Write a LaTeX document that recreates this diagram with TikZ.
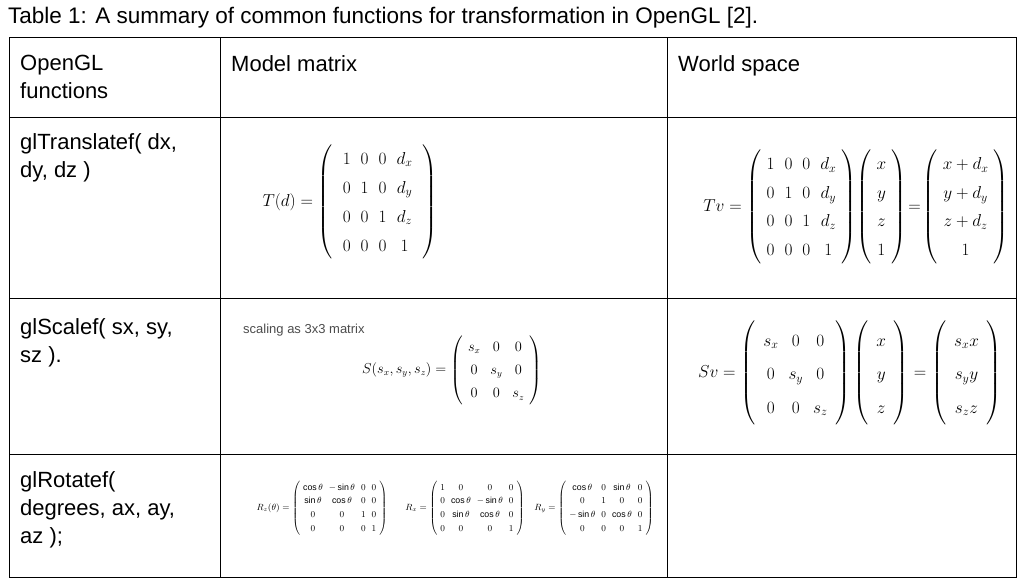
\documentclass[tikz,border=0pt]{standalone}
\usepackage{amsmath}
\usepackage{fontspec}
\setmainfont{Liberation Sans}
\begin{document}
\begin{tikzpicture}[x=1pt,y=-1pt,
  txt/.style={anchor=north west,align=left,font=\fontsize{22}{28}\selectfont,inner sep=0pt},
  mth/.style={inner sep=0pt}]
\useasboundingbox (0,0) rectangle (1024,584);
\node[anchor=west,inner sep=0pt,font=\fontsize{22.5}{26}\selectfont] (cap) at (8,18) {Table 1: A summary of common functions for transformation in OpenGL [2].};
\draw[line width=1pt] (9,37) rectangle (1016,577);
\draw[line width=1pt] (9,117) -- (1016,117) (9,298) -- (1016,298) (9,454) -- (1016,454)
  (220,37) -- (220,577) (667,37) -- (667,577);
\node[txt] (h1) at (20,55) {OpenGL\\functions};
\node[txt] (h2) at (231,55) {Model matrix};
\node[txt] (h3) at (678,55) {World space};
\node[txt] (r1) at (20,133) {glTranslatef( dx,\\dy, dz )};
\node[txt] (r2) at (20,318) {glScalef( sx, sy,\\sz ).};
\node[txt] (r3) at (20,471) {glRotatef(\\degrees, ax, ay,\\az );};
\renewcommand{\arraystretch}{1.45}
\node[mth,font=\fontsize{17}{20}\selectfont] (T) at (350,202) {$T(d)=\left(\begin{array}{cccc}\;1&0&0&d_x\;\\ \;0&1&0&d_y\;\\ \;0&0&1&d_z\;\\ \;0&0&0&1\;\end{array}\right)$};
\renewcommand{\arraystretch}{1.5}
\node[mth,font=\fontsize{16.5}{19}\selectfont] (Tv) at (856,207) {$Tv=\left(\begin{array}{cccc}1&0&0&d_x\\ 0&1&0&d_y\\ 0&0&1&d_z\\ 0&0&0&1\end{array}\right)\!\left(\begin{array}{c}x\\y\\z\\1\end{array}\right)\!=\!\left(\begin{array}{c}x+d_x\\y+d_y\\z+d_z\\1\end{array}\right)$};
\node[anchor=west,inner sep=0pt,text=black!70,font=\fontsize{13}{15}\selectfont] (sc) at (243,330) {scaling as 3x3 matrix};
\renewcommand{\arraystretch}{1.45}
\node[mth,font=\fontsize{13.5}{16}\selectfont] (S) at (452,370) {$S(s_x,s_y,s_z)=\left(\begin{array}{ccc}s_x&0&0\\0&s_y&0\\0&0&s_z\end{array}\right)$};
\renewcommand{\arraystretch}{1.6}
\node[mth,font=\fontsize{18}{21}\selectfont] (Sv) at (850,373) {$Sv=\left(\begin{array}{ccc}\,s_x&0&0\,\\ \,0&s_y&0\,\\ \,0&0&s_z\,\end{array}\right)\left(\begin{array}{c}\,x\,\\ \,y\,\\ \,z\,\end{array}\right)=\left(\begin{array}{c}\,s_xx\,\\ \,s_yy\,\\ \,s_zz\,\end{array}\right)$};
\renewcommand{\arraystretch}{1.25}
\setlength{\arraycolsep}{3pt}
\node[mth,font=\fontsize{8.8}{11}\selectfont] (Rz) at (322,508) {$R_z(\theta)=\left(\begin{array}{cccc}\cos\theta&-\sin\theta&0&0\\ \sin\theta&\cos\theta&0&0\\0&0&1&0\\0&0&0&1\end{array}\right)$};
\node[mth,font=\fontsize{8.8}{11}\selectfont] (Rx) at (465,508) {$R_x=\left(\begin{array}{cccc}1&0&0&0\\0&\cos\theta&-\sin\theta&0\\0&\sin\theta&\cos\theta&0\\0&0&0&1\end{array}\right)$};
\node[mth,font=\fontsize{8.8}{11}\selectfont] (Ry) at (594,508) {$R_y=\left(\begin{array}{cccc}\cos\theta&0&\sin\theta&0\\0&1&0&0\\-\sin\theta&0&\cos\theta&0\\0&0&0&1\end{array}\right)$};
\end{tikzpicture}
\end{document}
